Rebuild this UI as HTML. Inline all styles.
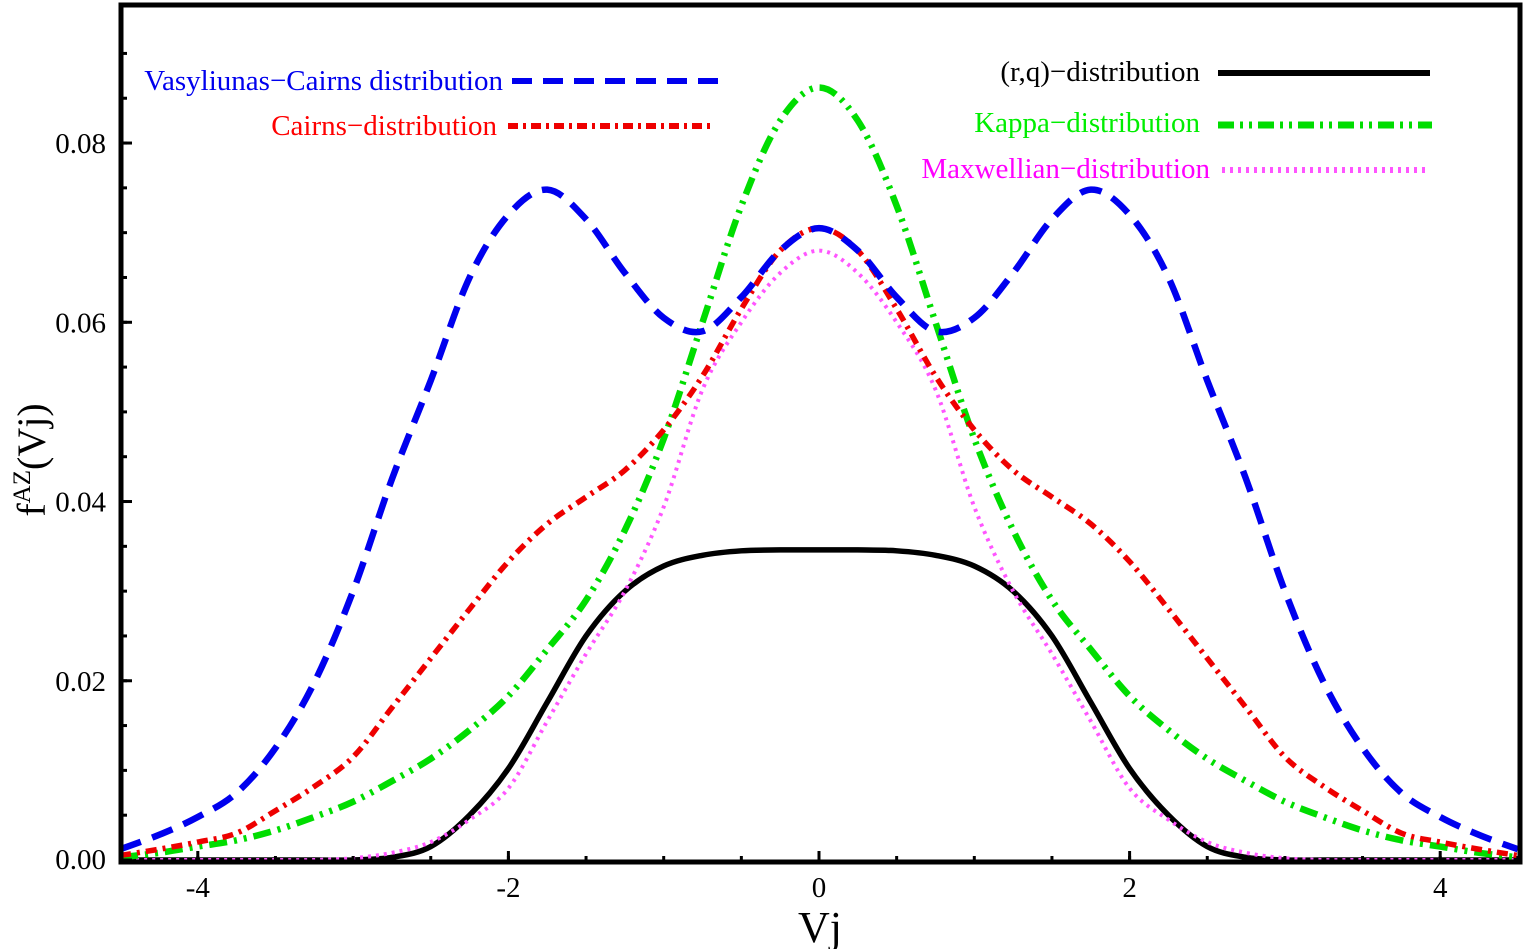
<!DOCTYPE html>
<html><head><meta charset="utf-8"><style>
html,body{margin:0;padding:0;background:#fff;}
svg{display:block;font-family:"Liberation Serif",serif;}
</style></head><body>
<svg id="c" width="1524" height="949" xmlns="http://www.w3.org/2000/svg">
<defs><clipPath id="pc"><rect x="121" y="5" width="1399" height="857"/></clipPath></defs>
<g id="curves" clip-path="url(#pc)"></g>
<rect x="121" y="5" width="1399" height="857" fill="none" stroke="#000" stroke-width="5"/>
<g id="ticks"></g>
<text x="820" y="942" font-size="44" text-anchor="middle">Vj</text>
<text transform="translate(45,460) rotate(-90)" font-size="40" text-anchor="middle">f<tspan font-size="25" dy="-15">AZ</tspan><tspan dy="15">(Vj)</tspan></text>
<g font-size="29">
<text x="503" y="90" text-anchor="end" fill="#0000ee">Vasyliunas−Cairns distribution</text>
<line x1="512" y1="81" x2="725" y2="81" stroke="#0000ee" stroke-width="6" stroke-dasharray="20,11"/>
<text x="497" y="135" text-anchor="end" fill="#ff0000">Cairns−distribution</text>
<line x1="508" y1="126" x2="712" y2="126" stroke="#ee0000" stroke-width="6" stroke-dasharray="10,5,3,5"/>
<text x="1200" y="81" text-anchor="end" fill="#000">(r,q)−distribution</text>
<line x1="1218" y1="73" x2="1430" y2="73" stroke="#000" stroke-width="6"/>
<text x="1200" y="132" text-anchor="end" fill="#00ee00">Kappa−distribution</text>
<line x1="1218" y1="125" x2="1432" y2="125" stroke="#00dd00" stroke-width="7" stroke-dasharray="16,6,3,6,3,6"/>
<text x="1210" y="178" text-anchor="end" fill="#ff00ff">Maxwellian−distribution</text>
<line x1="1222" y1="170" x2="1425" y2="170" stroke="#ff55ff" stroke-width="6" stroke-dasharray="3,5"/>
</g>
</svg>
<script>
const xs=[-4.5,-4.25,-4,-3.75,-3.5,-3.25,-3,-2.75,-2.5,-2.25,-2,-1.75,-1.5,-1.25,-1,-0.75,-0.5,-0.25,0,0.25,0.5,0.75,1,1.25,1.5,1.75,2,2.25,2.5,2.75,3,3.25,3.5,3.75,4,4.25,4.5];
const blueVals=[.0012,.0028,.0048,.0075,.0125,.0198,.030,.0425,.0535,.065,.072,.0748,.0715,.0655,.0605,.059,.0628,.068,.0705,.068,.0628,.059,.0605,.0655,.0715,.0748,.072,.065,.0535,.0425,.030,.0198,.0125,.0075,.0048,.0028,.0012];
const redVals=[.0005,.0012,.002,.003,.0055,.0082,.0115,.017,.0225,.028,.0333,.0375,.0405,.0435,.048,.054,.0615,.068,.0705,.068,.0615,.054,.048,.0435,.0405,.0375,.0333,.028,.0225,.017,.0115,.0082,.0055,.003,.002,.0012,.0005];
const greenVals=[.0003,.0008,.0015,.0022,.0033,.0048,.0065,.0088,.0113,.0145,.0183,.0235,.029,.0368,.047,.060,.073,.0825,.0862,.0825,.073,.060,.047,.0368,.029,.0235,.0183,.0145,.0113,.0088,.0065,.0048,.0033,.0022,.0015,.0008,.0003];
const magentaVals=[0,0,0,0,0,0,.0002,.0008,.002,.0045,.008,.0155,.023,.030,.0394,.0525,.060,.0655,.068,.0655,.060,.0525,.0394,.030,.023,.0155,.008,.0045,.002,.0008,.0002,0,0,0,0,0,0];
const blackVals=[0,0,0,0,0,0,0,.0003,.0015,.005,.0102,.0176,.025,.030,.0328,.034,.0345,.0346,.0346,.0346,.0345,.034,.0328,.030,.025,.0176,.0102,.005,.0015,.0003,0,0,0,0,0,0,0];
const xTicks=[-4,-2,0,2,4];
const xTickLabels=["-4","-2","0","2","4"];
const yTicks=[0,0.02,0.04,0.06,0.08];
const yTickLabels=["0.00","0.02","0.04","0.06","0.08"];

const NS="http://www.w3.org/2000/svg";
const sx=v=>819+v*155.3;
const sy=v=>860-v*8962;
function pathFor(vals){
  const p=xs.map((x,i)=>[sx(x),sy(vals[i])]);
  let d="M"+p[0][0]+","+p[0][1];
  for(let i=0;i<p.length-1;i++){
    const p0=p[Math.max(0,i-1)],p1=p[i],p2=p[i+1],p3=p[Math.min(p.length-1,i+2)];
    const c1x=p1[0]+(p2[0]-p0[0])/6,c1y=p1[1]+(p2[1]-p0[1])/6;
    const c2x=p2[0]-(p3[0]-p1[0])/6,c2y=p2[1]-(p3[1]-p1[1])/6;
    d+=" C"+c1x+","+c1y+" "+c2x+","+c2y+" "+p2[0]+","+p2[1];
  }
  return d;
}
const g=document.getElementById("curves");
function addCurve(vals,color,w,dash,name){
  const el=document.createElementNS(NS,"path");
  el.setAttribute("d",pathFor(vals));
  el.setAttribute("fill","none");
  el.setAttribute("stroke",color);
  el.setAttribute("stroke-width",w);
  if(dash) el.setAttribute("stroke-dasharray",dash);
  
  
  g.appendChild(el);
}
addCurve(blackVals,"#000",5.5,null,"rq-distribution-curve");
addCurve(magentaVals,"#ff55ff",4,"3,5","maxwellian-curve");
addCurve(greenVals,"#00dd00",6.5,"18,7,3,7,3,7","kappa-curve");
addCurve(redVals,"#ee0000",5.5,"11,6,3,6","cairns-curve");
addCurve(blueVals,"#0000ee",6.5,"22,12","vasyliunas-cairns-curve");

const t=document.getElementById("ticks");
function tick(x1,y1,x2,y2,w,name){
  const l=document.createElementNS(NS,"line");
  l.setAttribute("x1",x1);l.setAttribute("x2",x2);
  l.setAttribute("y1",y1);l.setAttribute("y2",y2);
  l.setAttribute("stroke","#000");l.setAttribute("stroke-width",w);
  
  
  t.appendChild(l);
}
for(let v=-4.5;v<=4.5;v+=0.5){ tick(sx(v),862,sx(v),856,3,"x-minor-tick"); }
for(let v=0;v<=0.095;v+=0.005){ tick(121,sy(v),127,sy(v),3,"y-minor-tick"); }
xTicks.forEach((v,i)=>{
  tick(sx(v),862,sx(v),851,3,"x-tick");
  const tx=document.createElementNS(NS,"text");
  tx.setAttribute("x",sx(v));tx.setAttribute("y",897);
  tx.setAttribute("font-size","29");tx.setAttribute("text-anchor","middle");
  tx.textContent=xTickLabels[i];
  
  
  t.appendChild(tx);
});
yTicks.forEach((v,i)=>{
  tick(121,sy(v),132,sy(v),3,"y-tick");
  const tx=document.createElementNS(NS,"text");
  tx.setAttribute("x",106);tx.setAttribute("y",sy(v)+(v===0?9:10));
  tx.setAttribute("font-size","29");tx.setAttribute("text-anchor","end");
  tx.textContent=yTickLabels[i];
  
  
  t.appendChild(tx);
});
</script>
</body></html>
